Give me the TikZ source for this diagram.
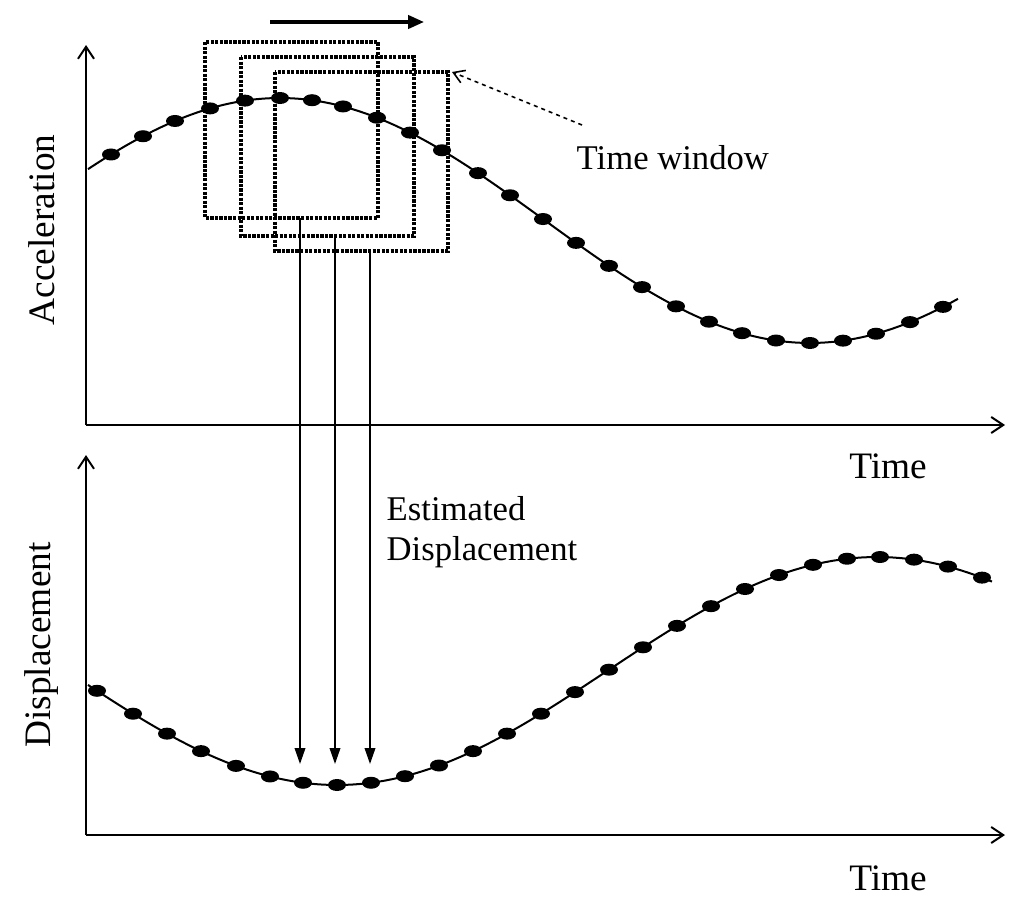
\documentclass[tikz,border=0pt]{standalone}
\usepackage{fontspec}
\setmainfont{Liberation Serif}
\usetikzlibrary{arrows.meta}
\begin{document}
\begin{tikzpicture}[x=0.75pt,y=-0.75pt,
  ax/.style={line width=1.5pt,-{Straight Barb[length=9pt,width=12pt]}},
  win/.style={densely dotted,line width=2.4pt},
  lbl/.style={font=\fontsize{26}{30}\selectfont},
  tlbl/.style={font=\fontsize{28}{32}\selectfont}]
\useasboundingbox (0,0) rectangle (1024,910);
% axes
\coordinate (o1) at (86,425); \coordinate (y1) at (86,45); \coordinate (x1) at (1005,425);
\coordinate (o2) at (86,835); \coordinate (y2) at (86,455); \coordinate (x2) at (1005,835);
\draw[ax] (o1) -- (y1); \draw[ax] (o1) -- (x1);
\draw[ax] (o2) -- (y2); \draw[ax] (o2) -- (x2);
% curves
\draw[line width=1.5pt] plot[domain=88:958,samples=120] (\x,{220.5-122.5*cos(0.33962*(\x-280))});
\draw[line width=1.5pt] plot[domain=88:992,samples=120] (\x,{671+114*cos(0.33333*(\x-337))});
\foreach \p in {111,143,175,210,245,280,312,343,377,410,442,478,510,543,576,609,642,676,709,742,776,810,843,876,910,943}
  \fill (\p,{220.5-122.5*cos(0.33962*(\p-280))}) ellipse [x radius=9,y radius=6];
\foreach \p in {97,133,167,201,236,270,303,337,371,405,439,473,507,541,575,609,643,677,711,745,779,813,847,880,914,948,982}
  \fill (\p,{671+114*cos(0.33333*(\p-337))}) ellipse [x radius=9,y radius=6];
% windows
\draw[win] (205,42) rectangle (378,218);
\draw[win] (241,57) rectangle (414,236);
\draw[win] (275,72) rectangle (448,251);
\coordinate (m1) at (270,22); \coordinate (m2) at (424,22);
\draw[line width=2.5pt,-{Triangle[length=12pt,width=10pt]}] (m1) -- (m2);
\node[lbl,anchor=west] (tw) at (572,158) {Time window};
\coordinate (d1) at (582,125); \coordinate (d2) at (452,72);
\draw[dashed,line width=1.2pt,-{Straight Barb[length=8pt,width=10pt]}] (d1) -- (d2);
% vertical arrows
\foreach \xx/\yt in {300/218,335/236,370/251}
  \draw[line width=1.2pt,-{Triangle[length=12pt,width=8pt]}] (\xx,\yt) -- (\xx,764);
\node[lbl,anchor=west,align=left] (ed) at (382,532) {Estimated\\Displacement};
\node[tlbl] (t1) at (888,466) {Time};
\node[tlbl] (t2) at (888,878) {Time};
\node[tlbl,rotate=90] (ya) at (42,230) {Acceleration};
\node[tlbl,rotate=90] (yd) at (42,645) {Displacement};
\end{tikzpicture}
\end{document}
